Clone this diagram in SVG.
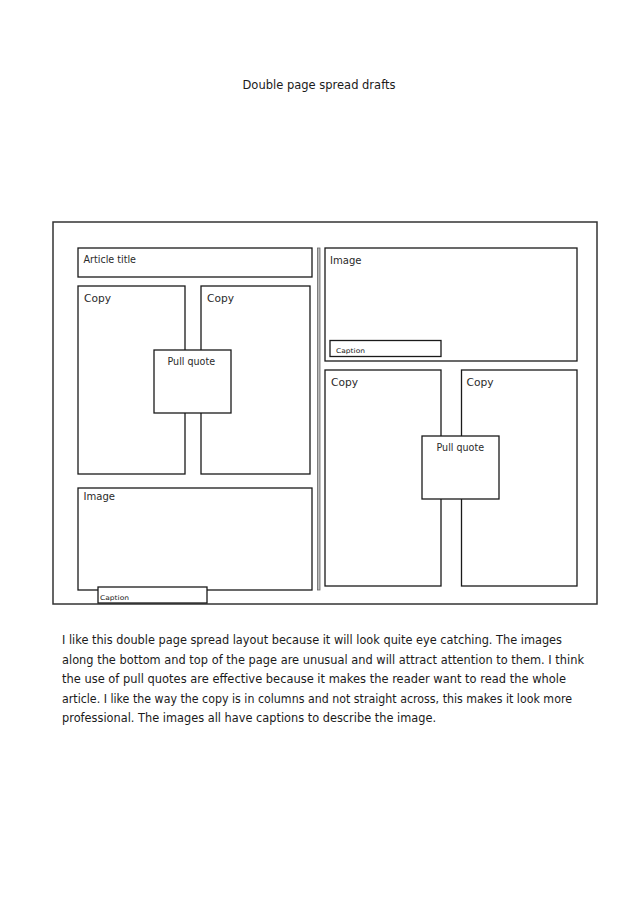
<svg xmlns="http://www.w3.org/2000/svg" width="638" height="902" viewBox="0 0 638 902">
<style>
.box{fill:#fff;stroke:#1a1a1a;stroke-width:1.3}
.frame{fill:#fff;stroke:#333;stroke-width:1.5}
.lbl{font-family:"DejaVu Sans",sans-serif;font-size:10px;fill:#2a2a2a}
.cap{font-family:"DejaVu Sans",sans-serif;font-size:6.5px;fill:#222}
.txt{font-family:"DejaVu Sans",sans-serif;font-size:11.5px;fill:#1a1a1a}
</style>
<rect width="638" height="902" fill="#fff"/>
<text class="txt" x="242.5" y="89" textLength="153" lengthAdjust="spacingAndGlyphs">Double page spread drafts</text>
<g id="frame"><rect class="frame" x="53" y="222" width="544" height="382"/></g>
<g id="divider"><rect x="317.5" y="248" width="2.5" height="342" fill="#bbb" stroke="#666" stroke-width="0.8"/></g>
<g id="article-title"><rect class="box" x="78" y="248" width="234" height="29"/><text class="lbl" x="83.5" y="263" textLength="52.5" lengthAdjust="spacingAndGlyphs">Article title</text></g>
<g id="copy-1"><rect class="box" x="78" y="286" width="107" height="188"/><text class="lbl" x="84" y="302" textLength="27" lengthAdjust="spacingAndGlyphs">Copy</text></g>
<g id="copy-2"><rect class="box" x="201" y="286" width="109" height="188"/><text class="lbl" x="207" y="302" textLength="27" lengthAdjust="spacingAndGlyphs">Copy</text></g>
<g id="pull-quote-1"><rect class="box" x="154" y="350" width="77" height="63"/><text class="lbl" x="167.5" y="364.5" textLength="47.5" lengthAdjust="spacingAndGlyphs">Pull quote</text></g>
<g id="image-1"><rect class="box" x="78" y="488" width="234" height="102"/><text class="lbl" x="83.5" y="500" textLength="31.5" lengthAdjust="spacingAndGlyphs">Image</text></g>
<g id="caption-1"><rect class="box" x="98" y="587" width="109" height="16"/><text class="cap" x="100" y="599.5" textLength="29" lengthAdjust="spacingAndGlyphs">Caption</text></g>
<g id="image-2"><rect class="box" x="325" y="248" width="252" height="113"/><text class="lbl" x="330" y="263.5" textLength="31.5" lengthAdjust="spacingAndGlyphs">Image</text></g>
<g id="caption-2"><rect class="box" x="330" y="340.5" width="111" height="16"/><text class="cap" x="336" y="352.5" textLength="29" lengthAdjust="spacingAndGlyphs">Caption</text></g>
<g id="copy-3"><rect class="box" x="325" y="370" width="116" height="216"/><text class="lbl" x="331" y="386" textLength="27" lengthAdjust="spacingAndGlyphs">Copy</text></g>
<g id="copy-4"><rect class="box" x="461.5" y="370" width="115.5" height="216"/><text class="lbl" x="466.5" y="386" textLength="27" lengthAdjust="spacingAndGlyphs">Copy</text></g>
<g id="pull-quote-2"><rect class="box" x="422" y="436" width="77" height="63"/><text class="lbl" x="436.5" y="451" textLength="47.5" lengthAdjust="spacingAndGlyphs">Pull quote</text></g>
<g id="paragraph">
<text class="txt" x="62" y="644" textLength="500" lengthAdjust="spacingAndGlyphs">I like this double page spread layout because it will look quite eye catching. The images</text>
<text class="txt" x="62" y="663.5" textLength="522" lengthAdjust="spacingAndGlyphs">along the bottom and top of the page are unusual and will attract attention to them. I think</text>
<text class="txt" x="62" y="683" textLength="504" lengthAdjust="spacingAndGlyphs">the use of pull quotes are effective because it makes the reader want to read the whole</text>
<text class="txt" x="62" y="702.5" textLength="510" lengthAdjust="spacingAndGlyphs">article. I like the way the copy is in columns and not straight across, this makes it look more</text>
<text class="txt" x="62" y="722" textLength="374" lengthAdjust="spacingAndGlyphs">professional. The images all have captions to describe the image.</text>
</g>
</svg>
